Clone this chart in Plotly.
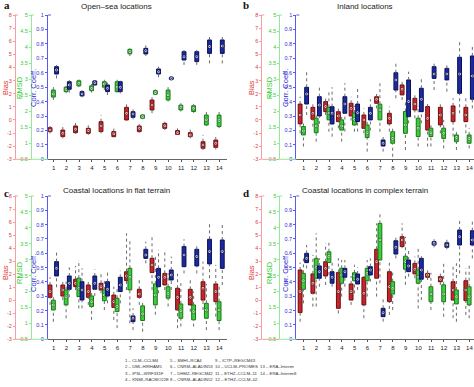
import plotly.graph_objects as go

# ---------------- data ----------------
CATS = list(range(1, 15))
CAT_LABELS = [str(c) for c in CATS]

BIAS_TICKS = [-3, -2, -1, 0, 1, 2, 3, 4, 5, 6, 7, 8]
RMSD_TICKS = [0.5, 1, 1.5, 2, 2.5, 3, 3.5, 4, 4.5, 5]
CORR_TICKS = [0, 0.1, 0.2, 0.3, 0.4, 0.5, 0.6, 0.7, 0.8, 0.9, 1]

PANEL_TITLES = ["Open–sea locations", "Inland locations",
                "Coastal locations in flat terrain", "Coastal locations in complex terrain"]
PANEL_LETTERS = ["a", "b", "c", "d"]

# Panel a: open-sea
A_BIAS_LO = [-1.02, -1.40, -1.06, -1.14, -1.02, -1.33, -0.05, -0.97, 0.51, -0.77, -1.14, -1.40, -2.29, -2.24]
A_BIAS_Q1 = [-0.89, -1.27, -0.97, -1.02, -0.89, -1.27, 0.00, -0.89, 0.76, -0.64, -1.10, -1.27, -2.16, -2.09]
A_BIAS_MED = [-0.77, -1.02, -0.71, -0.81, -0.46, -1.06, 0.51, -0.64, 1.14, -0.44, -0.97, -1.14, -1.91, -1.78]
A_BIAS_Q3 = [-0.59, -0.77, -0.46, -0.64, -0.13, -0.89, 0.96, -0.46, 1.52, -0.26, -0.81, -0.97, -1.66, -1.53]
A_BIAS_HI = [-0.46, -0.30, -0.13, -0.30, 0.38, -0.64, 1.40, -0.30, 1.73, -0.13, -0.64, -0.64, -1.14, -1.06]

A_RMSD_LO = [2.35, 2.56, 2.75, 2.58, 2.66, 2.58, 3.72, 1.75, 2.51, 2.30, 1.99, 1.95, 1.54, 1.47]
A_RMSD_Q1 = [2.44, 2.61, 2.79, 2.64, 2.75, 2.61, 3.79, 1.78, 2.53, 2.35, 2.04, 1.99, 1.57, 1.52]
A_RMSD_MED = [2.54, 2.68, 2.87, 2.71, 2.85, 2.75, 3.86, 1.83, 2.58, 2.51, 2.12, 2.09, 1.73, 1.71]
A_RMSD_Q3 = [2.66, 2.75, 2.95, 2.79, 2.92, 2.92, 3.93, 1.88, 2.64, 2.66, 2.19, 2.17, 1.88, 1.88]
A_RMSD_HI = [2.75, 2.79, 2.99, 2.85, 2.98, 2.98, 3.96, 1.91, 2.68, 2.75, 2.25, 2.22, 1.99, 1.99]

A_CORR_LO = [0.561, 0.462, 0.430, 0.508, 0.446, 0.457, 0.277, 0.716, 0.568, 0.550, 0.654, 0.654, 0.665, 0.665]
A_CORR_Q1 = [0.591, 0.485, 0.439, 0.515, 0.469, 0.469, 0.291, 0.730, 0.591, 0.554, 0.688, 0.677, 0.734, 0.734]
A_CORR_MED = [0.619, 0.515, 0.453, 0.531, 0.492, 0.499, 0.314, 0.753, 0.607, 0.561, 0.711, 0.711, 0.781, 0.785]
A_CORR_Q3 = [0.642, 0.538, 0.469, 0.543, 0.515, 0.538, 0.330, 0.769, 0.626, 0.568, 0.746, 0.746, 0.827, 0.827]
A_CORR_HI = [0.654, 0.550, 0.480, 0.550, 0.531, 0.545, 0.346, 0.804, 0.642, 0.573, 0.758, 0.758, 0.861, 0.850]

# Panel b: inland
B_BIAS_LO = [-1.02, -0.51, 0.38, -0.64, -0.05, -1.02, 0.88, -0.89, 1.52, 0.12, -2.03, -1.02, -1.27, -1.02]
B_BIAS_Q1 = [-0.30, 0.05, 0.63, -0.13, 0.30, -0.64, 1.27, -0.30, 1.91, 0.76, -0.77, -0.38, -0.13, -0.13]
B_BIAS_MED = [0.38, 0.51, 1.02, 0.30, 0.88, 0.00, 1.58, 0.12, 2.34, 1.21, 0.12, 0.38, 0.51, 0.38]
B_BIAS_Q3 = [1.21, 0.96, 1.40, 0.63, 1.27, 0.38, 1.77, 0.51, 2.67, 1.65, 1.02, 0.96, 1.07, 0.96]
B_BIAS_HI = [1.77, 1.40, 1.73, 1.07, 1.77, 0.88, 1.98, 1.02, 2.92, 1.91, 1.21, 1.21, 1.65, 1.65]

B_RMSD_LO = [0.90, 1.05, 1.36, 1.05, 1.36, 0.74, 1.36, 0.58, 0.79, 0.90, 0.90, 0.84, 0.79, 0.84]
B_RMSD_Q1 = [1.26, 1.33, 1.73, 1.41, 1.57, 1.18, 1.73, 1.00, 1.31, 1.21, 1.21, 1.15, 1.05, 1.00]
B_RMSD_MED = [1.38, 1.54, 1.94, 1.54, 1.75, 1.33, 2.04, 1.15, 1.57, 1.47, 1.33, 1.31, 1.18, 1.15]
B_RMSD_Q3 = [1.52, 1.78, 2.12, 1.73, 1.94, 1.57, 2.22, 1.36, 1.99, 1.78, 1.47, 1.47, 1.26, 1.26]
B_RMSD_HI = [1.67, 1.94, 2.66, 1.88, 2.17, 1.67, 2.87, 1.52, 2.35, 2.17, 1.64, 1.73, 1.36, 1.47]

B_CORR_LO = [0.307, 0.245, 0.157, 0.192, 0.192, 0.199, 0.053, 0.423, 0.249, 0.249, 0.480, 0.469, 0.319, 0.353]
B_CORR_Q1 = [0.383, 0.300, 0.245, 0.319, 0.261, 0.273, 0.092, 0.480, 0.296, 0.330, 0.561, 0.550, 0.457, 0.416]
B_CORR_MED = [0.453, 0.376, 0.319, 0.383, 0.323, 0.319, 0.111, 0.550, 0.400, 0.416, 0.591, 0.591, 0.591, 0.577]
B_CORR_Q3 = [0.499, 0.434, 0.365, 0.434, 0.383, 0.360, 0.134, 0.600, 0.550, 0.492, 0.642, 0.630, 0.707, 0.716]
B_CORR_HI = [0.614, 0.499, 0.499, 0.527, 0.499, 0.416, 0.157, 0.677, 0.607, 0.573, 0.684, 0.654, 0.815, 0.792]

# Panel c: coastal, flat terrain
C_BIAS_LO = [-0.36, 0.01, 0.78, -0.36, 0.53, -1.51, 0.78, -0.36, 0.78, 0.78, -2.15, -0.88, -0.75, -1.26]
C_BIAS_Q1 = [0.22, 0.32, 1.04, 0.22, 0.78, -0.55, 1.50, 0.22, 2.12, 1.17, -0.75, -0.36, 0.01, -0.11]
C_BIAS_MED = [0.66, 0.78, 1.30, 0.66, 1.04, -0.11, 1.86, 0.48, 2.71, 1.76, 0.22, 0.22, 0.92, 0.66]
C_BIAS_Q3 = [1.17, 1.17, 1.61, 1.17, 1.30, 0.40, 2.19, 0.84, 3.22, 2.06, 0.92, 0.84, 1.42, 1.25]
C_BIAS_HI = [1.76, 1.50, 2.63, 1.61, 2.12, 1.04, 5.14, 1.61, 4.88, 3.85, 2.02, 1.69, 2.96, 2.71]

C_RMSD_LO = [1.05, 1.16, 1.47, 1.11, 1.42, 0.85, 1.00, 0.74, 1.27, 1.53, 0.90, 0.90, 0.79, 0.79]
C_RMSD_Q1 = [1.42, 1.58, 1.84, 1.53, 1.71, 1.37, 2.05, 1.09, 1.58, 1.79, 1.16, 1.11, 1.16, 1.09]
C_RMSD_MED = [1.58, 1.84, 2.10, 1.68, 1.89, 1.53, 2.45, 1.30, 1.89, 1.94, 1.40, 1.37, 1.42, 1.42]
C_RMSD_Q3 = [1.73, 2.05, 2.42, 1.86, 2.05, 1.79, 2.73, 1.55, 2.24, 2.15, 1.61, 1.58, 1.63, 1.68]
C_RMSD_HI = [1.86, 2.31, 2.99, 2.00, 2.42, 2.15, 3.62, 1.73, 3.15, 2.57, 2.26, 2.00, 2.24, 2.24]

C_CORR_LO = [0.363, 0.293, 0.216, 0.302, 0.251, 0.251, 0.065, 0.530, 0.321, 0.344, 0.460, 0.460, 0.426, 0.379]
C_CORR_Q1 = [0.442, 0.349, 0.274, 0.349, 0.302, 0.333, 0.123, 0.565, 0.367, 0.414, 0.507, 0.512, 0.526, 0.495]
C_CORR_MED = [0.495, 0.391, 0.344, 0.391, 0.349, 0.379, 0.147, 0.588, 0.433, 0.449, 0.588, 0.577, 0.612, 0.612]
C_CORR_Q3 = [0.542, 0.442, 0.402, 0.442, 0.402, 0.433, 0.163, 0.628, 0.495, 0.484, 0.647, 0.628, 0.698, 0.693]
C_CORR_HI = [0.612, 0.502, 0.495, 0.488, 0.465, 0.479, 0.216, 0.681, 0.623, 0.577, 0.698, 0.670, 0.809, 0.809]

# Panel d: coastal, complex terrain
D_BIAS_LO = [-1.65, -0.49, 1.17, -1.01, -0.36, -1.38, 0.28, -1.13, 3.99, 1.69, 1.55, 1.17, -1.38, -1.13]
D_BIAS_Q1 = [-0.95, 0.53, 1.86, -0.62, 0.01, -0.36, 1.69, -0.11, 4.12, 2.02, 1.76, 1.42, 0.01, -0.03]
D_BIAS_MED = [0.66, 1.30, 2.45, 0.66, 0.66, 0.53, 2.96, 1.04, 4.62, 2.37, 1.94, 1.61, 0.78, 0.78]
D_BIAS_Q3 = [2.32, 2.02, 2.96, 2.12, 1.25, 1.76, 3.91, 2.19, 4.88, 2.83, 2.06, 1.81, 1.42, 1.50]
D_BIAS_HI = [2.89, 3.47, 4.37, 3.22, 1.86, 1.86, 5.90, 2.96, 5.90, 3.35, 2.32, 2.06, 2.58, 2.45]

D_RMSD_LO = [1.63, 1.53, 2.52, 1.84, 1.94, 1.84, 2.26, 1.42, 2.21, 1.47, 1.42, 1.21, 1.05, 1.16]
D_RMSD_Q1 = [2.07, 2.42, 2.91, 2.26, 2.34, 2.34, 2.99, 1.92, 2.70, 2.26, 1.68, 1.68, 1.61, 1.58]
D_RMSD_MED = [2.34, 2.76, 3.10, 2.52, 2.49, 2.57, 3.62, 2.10, 2.94, 2.45, 1.92, 1.92, 1.84, 1.84]
D_RMSD_Q3 = [2.57, 3.04, 3.25, 2.73, 2.59, 2.73, 4.14, 2.31, 3.11, 2.68, 2.15, 2.21, 2.05, 2.15]
D_RMSD_HI = [3.04, 3.83, 3.53, 2.99, 2.84, 2.99, 4.51, 2.62, 3.72, 3.36, 2.59, 2.89, 2.89, 2.89]

D_CORR_LO = [0.495, 0.367, 0.367, 0.367, 0.344, 0.402, 0.123, 0.565, 0.437, 0.274, 0.642, 0.628, 0.460, 0.565]
D_CORR_Q1 = [0.535, 0.426, 0.391, 0.433, 0.386, 0.449, 0.158, 0.595, 0.472, 0.419, 0.658, 0.642, 0.658, 0.658]
D_CORR_MED = [0.565, 0.472, 0.433, 0.472, 0.419, 0.484, 0.186, 0.642, 0.512, 0.484, 0.670, 0.658, 0.716, 0.693]
D_CORR_Q3 = [0.600, 0.512, 0.472, 0.495, 0.456, 0.507, 0.216, 0.688, 0.553, 0.565, 0.681, 0.674, 0.763, 0.758]
D_CORR_HI = [0.658, 0.565, 0.553, 0.553, 0.502, 0.565, 0.286, 0.728, 0.628, 0.580, 0.698, 0.698, 0.833, 0.828]

LEGEND_COLUMNS = [
    ["1 – CLM–CCLM4", "2 – DMI–HIRHAM5", "3 – IPSL–WRF331F", "4 – KNMI–RACMO22E"],
    ["5 – SMHI–RCA4", "6 – CNRM–ALADIN53", "7 – DHMZ–REGCM42", "8 – CNRM–ALADIN52"],
    ["9 – ICTP–REGCM43", "10 – UCLM–PROMES", "11 – ETHZ–CCLM–11", "12 – ETHZ–CCLM–02"],
    ["", "13 – ERA–Interim", "14 – ERA–Interim8", ""],
]

# ---------------- styling / geometry ----------------
W, H = 474, 387
FONT = "Liberation Sans, Arial, sans-serif"

STYLE = {
    "bias": dict(fill="#c4262b", edge="#6e0c0e", axis="#f2a0a0", text="#e23a3a", title="Bias",
                 ticks=BIAS_TICKS, rng=[-3, 8], off=-0.28),
    "rmsd": dict(fill="#3fca3f", edge="#157a15", axis="#94ea94", text="#33cc33", title="RMSD",
                 ticks=RMSD_TICKS, rng=[0.5, 5], off=-0.02),
    "corr": dict(fill="#1b2a9e", edge="#070e55", axis="#5a5af0", text="#2b2bd6", title="Corr. Coeff.",
                 ticks=CORR_TICKS, rng=[0, 1], off=0.23),
}

COLS = [
    dict(bias=15, rmsd=31, corr=48, right=227, xr=[0.56, 14.6], tcx=116,
         tbias=5, trmsd=19, tcorr=33, letter_x=2),
    dict(bias=261.3, rmsd=279.3, corr=296.3, right=474, xr=[0.42, 14.36], tcx=365,
         tbias=251, trmsd=269, tcorr=285, letter_x=241),
]
ROWS = [dict(top=15, bottom=159.3, title_y=7, label_y=88, letter_y=5),
        dict(top=196, bottom=339.3, title_y=190, label_y=273, letter_y=193)]

PANELS = [
    dict(bias=(A_BIAS_LO, A_BIAS_Q1, A_BIAS_MED, A_BIAS_Q3, A_BIAS_HI),
         rmsd=(A_RMSD_LO, A_RMSD_Q1, A_RMSD_MED, A_RMSD_Q3, A_RMSD_HI),
         corr=(A_CORR_LO, A_CORR_Q1, A_CORR_MED, A_CORR_Q3, A_CORR_HI)),
    dict(bias=(B_BIAS_LO, B_BIAS_Q1, B_BIAS_MED, B_BIAS_Q3, B_BIAS_HI),
         rmsd=(B_RMSD_LO, B_RMSD_Q1, B_RMSD_MED, B_RMSD_Q3, B_RMSD_HI),
         corr=(B_CORR_LO, B_CORR_Q1, B_CORR_MED, B_CORR_Q3, B_CORR_HI)),
    dict(bias=(C_BIAS_LO, C_BIAS_Q1, C_BIAS_MED, C_BIAS_Q3, C_BIAS_HI),
         rmsd=(C_RMSD_LO, C_RMSD_Q1, C_RMSD_MED, C_RMSD_Q3, C_RMSD_HI),
         corr=(C_CORR_LO, C_CORR_Q1, C_CORR_MED, C_CORR_Q3, C_CORR_HI)),
    dict(bias=(D_BIAS_LO, D_BIAS_Q1, D_BIAS_MED, D_BIAS_Q3, D_BIAS_HI),
         rmsd=(D_RMSD_LO, D_RMSD_Q1, D_RMSD_MED, D_RMSD_Q3, D_RMSD_HI),
         corr=(D_CORR_LO, D_CORR_Q1, D_CORR_MED, D_CORR_Q3, D_CORR_HI)),
]


def px(xp):
    return xp / W


def py(yp):
    return 1 - yp / H


fig = go.Figure()
layout = dict(width=W, height=H, margin=dict(l=0, r=0, t=0, b=0), autosize=False,
              paper_bgcolor="white", plot_bgcolor="rgba(0,0,0,0)", showlegend=False,
              font=dict(family=FONT, size=6, color="#222"))
annotations = []
shapes = []

for i, panel in enumerate(PANELS):
    col = COLS[i % 2]
    row = ROWS[i // 2]
    xname = "x" if i == 0 else f"x{i + 1}"
    ynums = [3 * i + 1, 3 * i + 2, 3 * i + 3]
    ynames = ["y" if n == 1 else f"y{n}" for n in ynums]
    dom_y = [py(row["bottom"]), py(row["top"])]

    layout["xaxis" if i == 0 else f"xaxis{i + 1}"] = dict(
        domain=[px(col["corr"]), px(col["right"])], anchor=ynames[0], range=col["xr"],
        tickmode="array", tickvals=CATS, ticktext=CAT_LABELS, ticks="outside", ticklen=2,
        tickcolor="#555", showline=True, linecolor="#666", linewidth=1, showgrid=False,
        zeroline=False, tickfont=dict(size=6, color="#222"), automargin=False, fixedrange=True,
        ticklabeloverflow="allow")

    for k, (key, yname, ynum) in enumerate(zip(["bias", "rmsd", "corr"], ynames, ynums)):
        st = STYLE[key]
        ax = dict(range=st["rng"], tickmode="array", tickvals=st["ticks"],
                  ticktext=[f"{v:g}" for v in st["ticks"]], ticks="outside", ticklen=2,
                  tickcolor=st["axis"], showline=True, linecolor=st["axis"], linewidth=1,
                  showgrid=False, zeroline=False, tickfont=dict(size=5.5, color=st["text"]),
                  automargin=False, fixedrange=True)
        if k == 0:
            ax.update(domain=dom_y, anchor="free", position=px(col["bias"]))
        elif k == 1:
            ax.update(overlaying=ynames[0], anchor="free", position=px(col["rmsd"]))
        else:
            ax.update(overlaying=ynames[0], anchor=xname)
        layout["yaxis" if ynum == 1 else f"yaxis{ynum}"] = ax

        lo, q1, med, q3, hi = panel[key]
        xs = [c + st["off"] for c in CATS]
        # dotted whiskers
        wx, wy = [], []
        for xv, a, b, c, d in zip(xs, lo, q1, q3, hi):
            wx += [xv, xv, None, xv, xv, None]
            wy += [a, b, None, c, d, None]
        fig.add_trace(go.Scatter(x=wx, y=wy, mode="lines", xaxis=xname, yaxis=yname,
                                 line=dict(color="#6a6a6a", width=1, dash="dot"),
                                 hoverinfo="skip"))
        fig.add_trace(go.Box(x=xs, q1=q1, median=med, q3=q3, lowerfence=q1, upperfence=q3,
                             xaxis=xname, yaxis=yname, width=0.3, fillcolor=st["fill"],
                             line=dict(color=st["edge"], width=1), boxpoints=False,
                             whiskerwidth=0, hoverinfo="skip"))
        fig.add_trace(go.Scatter(x=xs, y=med, mode="markers", xaxis=xname, yaxis=yname,
                                 marker=dict(symbol="circle-dot", size=3.5, color="white",
                                             line=dict(color=st["edge"], width=0.8)),
                                 hoverinfo="skip"))

        # axis title
        annotations.append(dict(x=px(col["t" + key]), y=py(row["label_y"]), xref="paper",
                                yref="paper", text=st["title"], textangle=-90, showarrow=False,
                                xanchor="center", yanchor="middle",
                                font=dict(size=7.5, color=st["text"], family=FONT)))
        # short top bracket and bottom connector
        axx = col[key]
        shapes.append(dict(type="line", xref="paper", yref="paper", x0=px(axx), x1=px(axx + 3),
                           y0=py(row["top"]), y1=py(row["top"]),
                           line=dict(color=st["axis"], width=1)))
        nxt = {"bias": "rmsd", "rmsd": "corr"}.get(key)
        if nxt:
            shapes.append(dict(type="line", xref="paper", yref="paper", x0=px(axx),
                               x1=px(col[nxt]), y0=py(row["bottom"]), y1=py(row["bottom"]),
                               line=dict(color=st["axis"], width=1)))

    annotations.append(dict(x=px(col["tcx"]), y=py(row["title_y"]), xref="paper", yref="paper",
                            text=PANEL_TITLES[i], showarrow=False, xanchor="center",
                            yanchor="middle", font=dict(size=8, color="#222", family=FONT)))
    annotations.append(dict(x=px(col["letter_x"]), y=py(row["letter_y"]), xref="paper",
                            yref="paper", text=f"<b>{PANEL_LETTERS[i]}</b>", showarrow=False,
                            xanchor="left", yanchor="middle",
                            font=dict(size=11, color="#111",
                                      family="Liberation Serif, Times New Roman, serif")))

LEG_X = [123.3, 168.3, 213.3, 258.3]
LEG_Y = [360, 366.5, 373, 379.5]
for cx, column in zip(LEG_X, LEGEND_COLUMNS):
    for ly, txt in zip(LEG_Y, column):
        if txt:
            annotations.append(dict(x=px(cx), y=py(ly), xref="paper", yref="paper", text=txt,
                                    showarrow=False, xanchor="left", yanchor="middle",
                                    font=dict(size=4.3, color="#333", family=FONT)))

layout["annotations"] = annotations
layout["shapes"] = shapes
fig.update_layout(**layout)
fig.write_html("out.html", config={"displayModeBar": False, "staticPlot": True},
               post_script="document.body.style.margin='0';document.body.style.padding='0';")
